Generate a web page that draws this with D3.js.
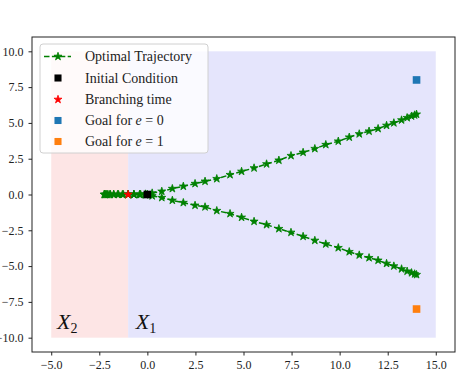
<!DOCTYPE html>
<html>
  <head>
    <meta charset="utf-8">
    <script src="https://d3js.org/d3.v7.min.js"></script>
  </head>
  <style>
    body { margin: 0; background: white; }
    text { font-family: "Liberation Serif", "DejaVu Serif", serif; }
  </style>
  <body>
    <svg width="474" height="386"></svg>
    <script>
      // shared part of the trajectory (before the branch)
      var stemX = [0.0, -0.35, -0.7, -1.0, -1.3, -1.55, -1.75, -1.92, -2.05, -2.15, -2.22, -2.25, -2.2, -2.1, -1.95, -1.75, -1.5, -1.25, -1.0];
      var stemY = [0, 0, 0, 0, 0, 0, 0, 0, 0, 0, 0, 0, 0, 0, 0, 0, 0, 0, 0];

      // branches after the branching time
      var branchX = [-1.0, -0.7, -0.4, -0.1, 0.25, 0.75, 1.3, 1.87, 2.48, 3.0, 3.61, 4.3, 4.9, 5.55, 6.2, 6.84, 7.47, 8.1, 8.71, 9.28, 9.93, 10.5, 11.02, 11.53, 12.0, 12.44, 12.82, 13.22, 13.51, 13.74, 13.9, 14.0];
      var upperY = [0, 0, 0.01, 0.03, 0.1, 0.22, 0.41, 0.57, 0.76, 0.92, 1.1, 1.38, 1.61, 1.85, 2.13, 2.39, 2.71, 2.94, 3.2, 3.48, 3.72, 4.0, 4.23, 4.42, 4.6, 4.82, 5.0, 5.2, 5.36, 5.47, 5.55, 5.6];
      var lowerY = [0, 0, -0.01, -0.03, -0.1, -0.22, -0.41, -0.57, -0.76, -0.87, -1.13, -1.34, -1.6, -1.88, -2.11, -2.39, -2.65, -2.93, -3.21, -3.46, -3.72, -4.0, -4.23, -4.42, -4.6, -4.82, -5.0, -5.2, -5.36, -5.47, -5.55, -5.6];

      var initialCondition = [0, 0];
      var branchingPoint = [-1, 0];
      var goal0 = [14, 8];
      var goal1 = [14, -8];

      var xTicks = [-5, -2.5, 0, 2.5, 5, 7.5, 10, 12.5, 15];
      var yTicks = [-10, -7.5, -5, -2.5, 0, 2.5, 5, 7.5, 10];

      var legendLabels = ["Optimal Trajectory", "Initial Condition", "Branching time", "Goal for e = 0", "Goal for e = 1"];

      var svg = d3.select("svg");
      var axLeft = 32, axRight = 455, axTop = 37, axBottom = 352;

      var x = d3.scaleLinear().domain([-6, 16]).range([axLeft, axRight]);
      var y = d3.scaleLinear().domain([-11, 11]).range([axBottom, axTop]);

      // regions
      svg.append("rect")
        .attr("x", x(-5)).attr("y", y(10))
        .attr("width", x(-1) - x(-5)).attr("height", y(-10) - y(10))
        .style("fill", "#fde5e5");
      svg.append("rect")
        .attr("x", x(-1)).attr("y", y(10))
        .attr("width", x(15) - x(-1)).attr("height", y(-10) - y(10))
        .style("fill", "#e5e5fc");

      // region labels
      function regionLabel(px, sub) {
        var t = svg.append("text")
          .attr("x", x(px)).attr("y", y(-9.4))
          .style("font-size", "22px")
          .style("font-style", "italic")
          .style("fill", "#111");
        t.append("tspan").text("X");
        t.append("tspan").attr("dy", 4).style("font-size", "14px").style("font-style", "normal").text(sub);
      }
      regionLabel(-4.7, "2");
      regionLabel(-0.6, "1");

      var star = d3.symbol().type(d3.symbolStar).size(20);
      var square = d3.symbol().type(d3.symbolSquare).size(58);
      var smallSquare = d3.symbol().type(d3.symbolSquare).size(50);

      var line = d3.line()
        .x(function (d) { return x(d[0]); })
        .y(function (d) { return y(d[1]); });

      var stem = d3.zip(stemX, stemY);
      var upper = d3.zip(branchX, upperY);
      var lower = d3.zip(branchX, lowerY);

      [stem, upper, lower].forEach(function (pts) {
        svg.append("path")
          .datum(pts)
          .attr("d", line)
          .style("fill", "none")
          .style("stroke", "#008000")
          .style("stroke-width", 1.5)
          .style("stroke-dasharray", "5.5,2.4");
        svg.append("g")
          .selectAll("path")
          .data(pts)
          .enter()
          .append("path")
          .attr("d", star)
          .attr("transform", function (d) { return "translate(" + x(d[0]) + "," + y(d[1]) + ")"; })
          .style("fill", "#008000")
          .style("stroke", "#008000")
          .style("stroke-width", 0.8);
      });

      svg.append("path").attr("d", square)
        .attr("transform", "translate(" + x(initialCondition[0]) + "," + y(initialCondition[1]) + ")")
        .style("fill", "black");
      svg.append("path").attr("d", star)
        .attr("transform", "translate(" + x(branchingPoint[0]) + "," + y(branchingPoint[1]) + ")")
        .style("fill", "red").style("stroke", "red").style("stroke-width", 0.8);
      svg.append("path").attr("d", square)
        .attr("transform", "translate(" + x(goal0[0]) + "," + y(goal0[1]) + ")")
        .style("fill", "#1f77b4");
      svg.append("path").attr("d", square)
        .attr("transform", "translate(" + x(goal1[0]) + "," + y(goal1[1]) + ")")
        .style("fill", "#ff7f0e");

      // axes
      var fmt = function (d) { return d3.format(".1f")(d).replace("-", "\u2212"); };
      var xAxis = svg.append("g")
        .attr("transform", "translate(0," + axBottom + ")")
        .call(d3.axisBottom(x).tickValues(xTicks).tickSize(3.5).tickPadding(5).tickFormat(fmt));
      var yAxis = svg.append("g")
        .attr("transform", "translate(" + axLeft + ",0)")
        .call(d3.axisLeft(y).tickValues(yTicks).tickSize(3.5).tickPadding(5).tickFormat(fmt));
      [xAxis, yAxis].forEach(function (a) {
        a.select(".domain").remove();
        a.selectAll("text").style("font-family", "Liberation Serif").style("font-size", "12px").style("fill", "#222");
        a.selectAll("line").style("stroke", "#222");
      });

      svg.append("rect")
        .attr("x", axLeft).attr("y", axTop)
        .attr("width", axRight - axLeft).attr("height", axBottom - axTop)
        .style("fill", "none").style("stroke", "#222").style("stroke-width", 1);

      // legend
      var lg = svg.append("g").attr("transform", "translate(40,44)");
      lg.append("rect")
        .attr("width", 168).attr("height", 109)
        .attr("rx", 3)
        .style("fill", "white").style("fill-opacity", 0.8)
        .style("stroke", "#d0d0d0").style("stroke-width", 1);
      var rowY = [12.5, 34, 55.5, 76.5, 97.5];
      lg.append("line")
        .attr("x1", 4).attr("x2", 31).attr("y1", rowY[0]).attr("y2", rowY[0])
        .style("stroke", "#008000").style("stroke-width", 1.5).style("stroke-dasharray", "5.5,2.4");
      lg.append("path").attr("d", star).attr("transform", "translate(18," + rowY[0] + ")")
        .style("fill", "#008000").style("stroke", "#008000").style("stroke-width", 0.8);
      lg.append("path").attr("d", smallSquare).attr("transform", "translate(18," + rowY[1] + ")").style("fill", "black");
      lg.append("path").attr("d", star).attr("transform", "translate(18," + rowY[2] + ")")
        .style("fill", "red").style("stroke", "red").style("stroke-width", 0.8);
      lg.append("path").attr("d", smallSquare).attr("transform", "translate(18," + rowY[3] + ")").style("fill", "#1f77b4");
      lg.append("path").attr("d", smallSquare).attr("transform", "translate(18," + rowY[4] + ")").style("fill", "#ff7f0e");

      legendLabels.forEach(function (label, i) {
        var t = lg.append("text")
          .attr("x", 45).attr("y", rowY[i] + 4.5)
          .style("font-size", "14px")
          .style("fill", "#222");
        if (i < 3) {
          t.text(label);
        } else {
          t.append("tspan").text("Goal for ");
          t.append("tspan").style("font-style", "italic").text("e");
          t.append("tspan").text(label.slice(10));
        }
      });
    </script>
  </body>
</html>
